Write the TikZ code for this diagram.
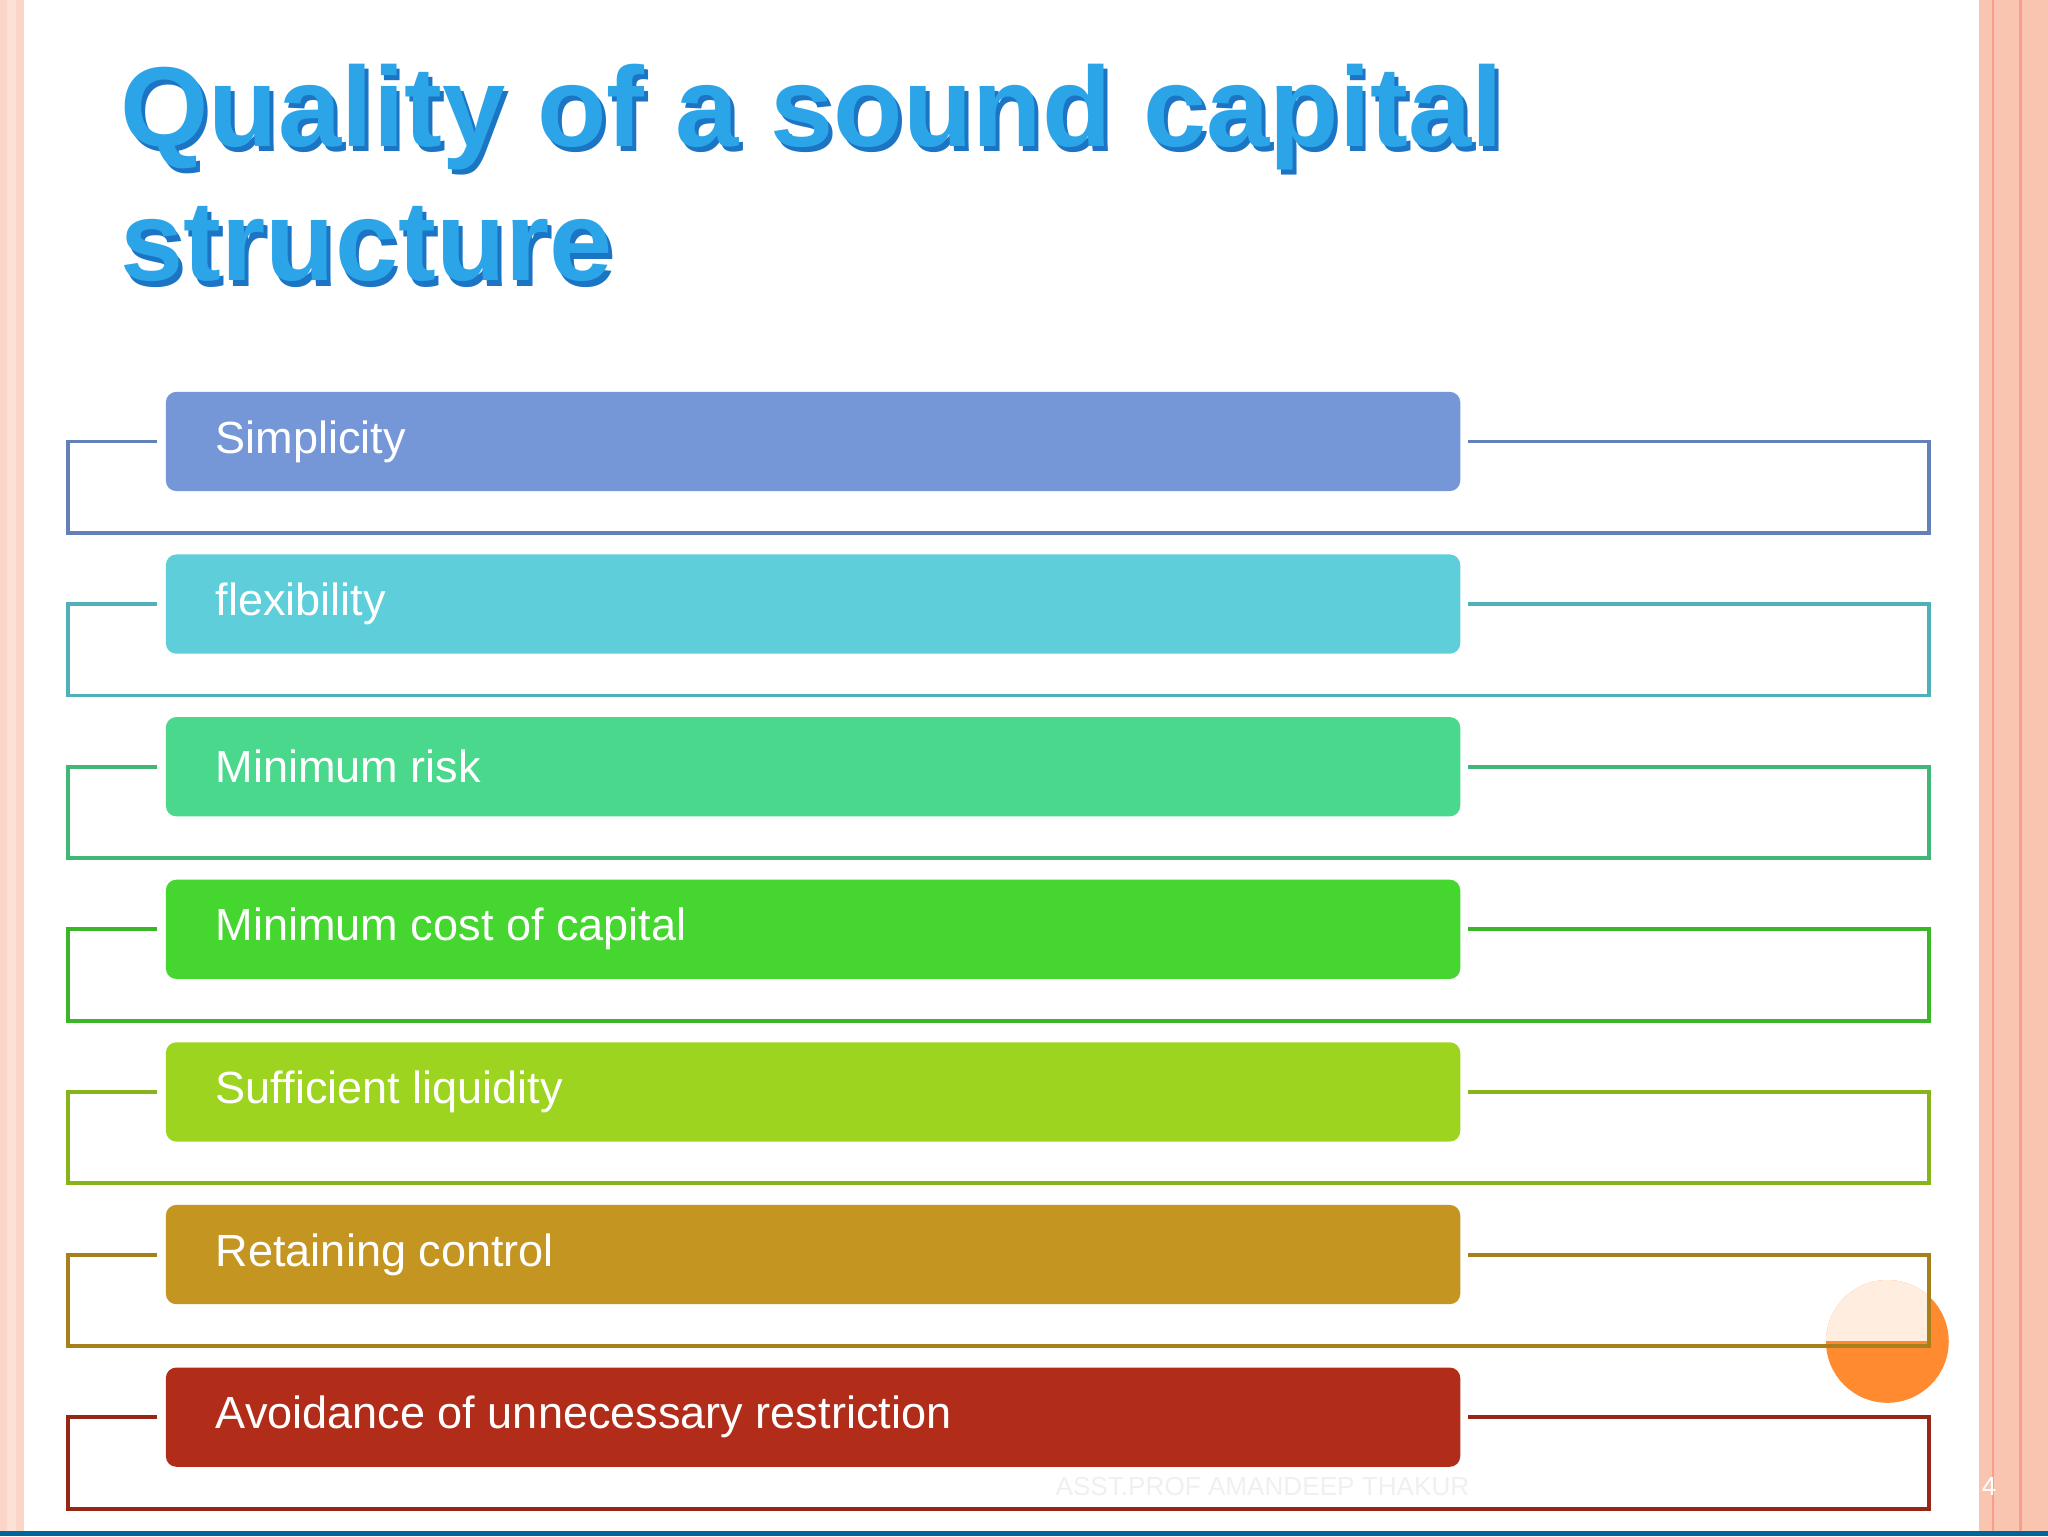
\documentclass[tikz,border=0pt]{standalone}
\usepackage{fontspec}
\setmainfont{Liberation Sans}
\begin{document}
\begin{tikzpicture}[x=1pt,y=-1pt,
  bar/.style={rounded corners=8pt,minimum width=991pt,minimum height=76pt,inner sep=0pt,draw=none},
  lab/.style={anchor=west,text=white,font=\fontsize{34.5}{37}\selectfont,inner sep=0pt},
  brk/.style={line width=3pt}]
\definecolor{c1}{HTML}{7597D8}\definecolor{c2}{HTML}{5ECFDA}\definecolor{c3}{HTML}{4AD88C}
\definecolor{c4}{HTML}{45D62F}\definecolor{c5}{HTML}{9DD420}\definecolor{c6}{HTML}{C49520}
\definecolor{c7}{HTML}{B12D19}\definecolor{tblue}{HTML}{2CA5E8}\definecolor{tshad}{HTML}{1C74C4}
\definecolor{salmon}{HTML}{F9C4B0}\definecolor{orng}{HTML}{FF8A30}
\fill[white] (0,0) rectangle (1568,1176);
\useasboundingbox (0,0) rectangle (1568,1176);
\fill[salmon!70] (0,0) rectangle (18,1176);
\fill[salmon!50] (5,0) rectangle (12,1176);
\fill[salmon] (1515,0) rectangle (1568,1176);
\fill[salmon!80!red] (1525,0) rectangle (1527,1176);
\fill[salmon!80!red] (1546,0) rectangle (1548,1176);
\fill[teal!80!blue] (0,1172) rectangle (1568,1176);
% title
\foreach \t/\yy in {{Quality of a sound capital}/112,{structure}/215}{
 \node[anchor=base west,inner sep=0pt,text=tshad,font=\fontsize{87}{87}\selectfont\bfseries] at (95,\yy+4) {\t};
 \node[anchor=base west,inner sep=0pt,text=tblue,font=\fontsize{87}{87}\selectfont\bfseries] at (92,\yy) {\t};}
% orange circle
\fill[orng] (1445,1027) circle (47);
\begin{scope}
\clip (1445,1027) circle (47);
\fill[white,opacity=0.85] (1390,975) rectangle (1477,1027);
\end{scope}
\foreach \i/\txt in {1/Simplicity,2/flexibility,3/Minimum risk,4/Minimum cost of capital,5/Sufficient liquidity,6/Retaining control,7/Avoidance of unnecessary restriction}{
 \pgfmathsetmacro{\cy}{338+124.5*(\i-1)}
 \node[bar,fill=c\i] (b\i) at (622.5,\cy) {};
 \node[lab] (t\i) at (165,\cy) {\txt};
 \coordinate (l\i) at (52,\cy);
 \coordinate (r\i) at (1477,\cy);
 \draw[brk,draw=c\i!85!black] (120,\cy) -- (l\i) -- ++(0,70) -| (r\i) -- (1124,\cy);
}
\node[anchor=west,inner sep=0pt,text=gray!12,font=\fontsize{20}{22}\selectfont] (ft) at (808,1138) {ASST.PROF AMANDEEP THAKUR};
\node[inner sep=0pt,text=white,font=\fontsize{20}{22}\selectfont] (pg) at (1523,1138) {4};
\end{tikzpicture}
\end{document}
